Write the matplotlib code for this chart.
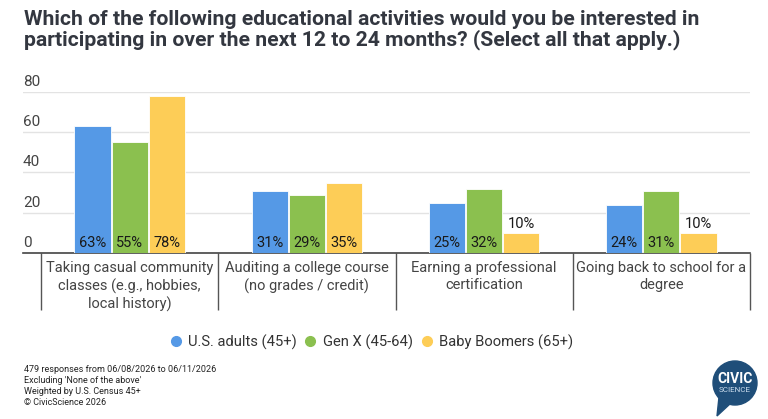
import numpy as np
import matplotlib.pyplot as plt
from matplotlib.patches import Circle, Polygon

plt.rcParams['font.family'] = ['Roboto', 'DejaVu Sans']

categories = ["Taking casual community\nclasses (e.g., hobbies,\nlocal history)",
              "Auditing a college course\n(no grades / credit)",
              "Earning a professional\ncertification",
              "Going back to school for a\ndegree"]
series = ["U.S. adults (45+)", "Gen X (45-64)", "Baby Boomers (65+)"]
us_adults = [63, 31, 25, 24]
gen_x = [55, 29, 32, 31]
boomers = [78, 35, 10, 10]
colors = ["#5599e6", "#8bc04f", "#fdcd57"]

fig = plt.figure(figsize=(7.68, 4.19), dpi=100)
ax = fig.add_axes([23/768, 1-253/419, (750-23)/768, (253-92)/419])

x = np.arange(len(categories))
w = 36/177
for k, (vals, c) in enumerate(zip([us_adults, gen_x, boomers], colors)):
    xs = x + (k-1)*w*1.03
    ax.bar(xs, vals, width=w, color=c, edgecolor='white', linewidth=0.6, zorder=3)
    for xi, v in zip(xs, vals):
        if v >= 15:
            ax.text(xi, 1.5, f"{v}%", ha='center', va='bottom', fontsize=10.5, color='#1a1a1a', zorder=4)
        else:
            ax.text(xi, v+0.8, f"{v}%", ha='center', va='bottom', fontsize=10.5, color='#1a1a1a', zorder=4)

ax.set_xlim(-0.5-18/177, 3.5)
ax.set_ylim(0, 80)
for s in ['top', 'right', 'left']:
    ax.spines[s].set_visible(False)
ax.spines['bottom'].set_color('#444444')
ax.spines['bottom'].set_linewidth(1.2)
ax.set_yticks([0, 20, 40, 60, 80])
ax.set_yticklabels([])
ax.tick_params(axis='y', length=0)
ax.grid(axis='y', color='#e3e3e3', linewidth=1, zorder=0)
for t in [0, 20, 40, 60, 80]:
    ax.text(0.0, t+1.5, str(t), transform=ax.get_yaxis_transform(), ha='left', va='bottom',
            fontsize=11, color='#444444')

ax.set_xticks(x)
ax.set_xticklabels(categories, fontsize=10.5, color='#444444', linespacing=1.25)
ax.tick_params(axis='x', length=0, pad=6)
ax.set_xticks(np.arange(-0.5, 4.0, 1.0), minor=True)
ax.tick_params(axis='x', which='minor', length=41, width=1, color='#555555')

fig.text(24/768, 1-30/419, "Which of the following educational activities would you be interested in\n"
         "participating in over the next 12 to 24 months? (Select all that apply.)",
         ha='left', va='center', fontsize=15.2, fontweight='bold', color='#333740', linespacing=1.0)

# legend
handles = [plt.Line2D([], [], marker='o', linestyle='', markersize=7, color=c) for c in colors]
fig.legend(handles, series, loc='center', bbox_to_anchor=(372/768, 1-342/419), ncol=3,
           frameon=False, fontsize=10.6, handletextpad=0.52, handlelength=0.6, columnspacing=0.66,
           labelcolor='#333333')

notes = ["479 responses from 06/08/2026 to 06/11/2026", "Excluding 'None of the above'",
         "Weighted by U.S. Census 45+", "\u00a9 CivicScience 2026"]
for i, n in enumerate(notes):
    fig.text(24/768, 1-(369+i*11)/419, n, ha='left', va='center', fontsize=6.5, color='#222222')

# logo
lax = fig.add_axes([705/768, 1-419/419, 60/768, 62/419])
lax.set_xlim(0, 60); lax.set_ylim(0, 62); lax.set_aspect('equal'); lax.axis('off')
lax.add_patch(Circle((30, 36), 22, color='#1f4e79'))
lax.add_patch(Polygon([[14, 22], [12, 3], [26, 16]], color='#1f4e79'))
lax.text(30, 40, "CIVIC", ha='center', va='center', fontsize=10, fontweight='bold', color='white')
lax.text(30, 29, "SCIENCE", ha='center', va='center', fontsize=5.8, color='#cfe0f0')

fig.savefig('out.png', dpi=100)
